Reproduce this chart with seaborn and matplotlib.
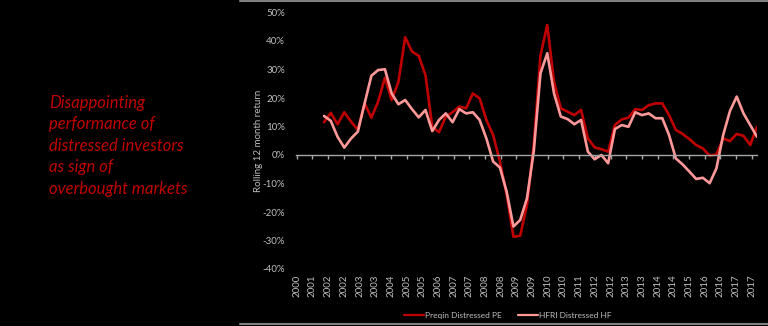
import numpy as np
import pandas as pd
import matplotlib
matplotlib.use("Agg")
import matplotlib.pyplot as plt
from matplotlib.lines import Line2D
import seaborn as sns

# ---- data (rolling 12 month return, %) ----
preqin_pe = [11.5, 14.8, 10.8, 15.0, 11.7, 8.8, 18.1, 13.1, 18.7, 27.1,
             19.3, 25.7, 41.3, 36.3, 34.8, 28.0, 9.9, 8.0, 13.5, 15.0,
             17.0, 16.4, 21.6, 19.9, 12.3, 7.0, -2.3, -14.0, -28.7, -28.3,
             -17.5, 3.5, 35.0, 45.6, 25.7, 16.4, 15.2, 14.0, 15.8, 5.8,
             2.7, 2.0, 1.2, 10.5, 12.5, 13.1, 16.1, 15.8, 17.5, 18.1,
             18.1, 14.0, 8.8, 7.4, 5.6, 3.5, 2.3, -0.2, 0.2, 5.8,
             4.9, 7.4, 6.7, 3.5, 9.9]
hfri_hf = [13.7, 12.0, 6.4, 2.6, 5.8, 8.2, 18.1, 27.8, 29.8, 30.1,
           21.6, 17.8, 19.3, 16.1, 13.2, 15.8, 8.4, 12.3, 14.6, 11.5,
           16.1, 14.6, 15.0, 12.3, 5.8, -2.3, -4.4, -12.9, -25.1, -22.8,
           -15.2, 1.2, 28.7, 35.7, 21.6, 13.5, 12.6, 10.8, 12.3, 1.2,
           -1.5, 0.0, -2.9, 9.1, 10.5, 9.9, 15.0, 14.0, 14.6, 12.9,
           12.9, 7.0, -1.2, -3.3, -5.8, -8.4, -8.0, -9.9, -4.7, 7.0,
           15.4, 20.5, 14.6, 10.5, 6.4]
series_names = ["Preqin Distressed PE", "HFRI Distressed HF"]
tick_labels = ["2000", "2001", "2002", "2002", "2003", "2003", "2004", "2005",
               "2005", "2006", "2007", "2007", "2008", "2008", "2009", "2009",
               "2010", "2010", "2011", "2012", "2012", "2013", "2013", "2014",
               "2014", "2015", "2016", "2016", "2017", "2017"]
y_ticks = [-40, -30, -20, -10, 0, 10, 20, 30, 40, 50]

n = len(preqin_pe)
df = pd.DataFrame({
    "period": np.concatenate([np.arange(n), np.arange(n)]),
    "ret": preqin_pe + hfri_hf,
    "series": [series_names[0]] * n + [series_names[1]] * n,
})

sns.set_theme(style="dark")
plt.rcParams["font.family"] = ["Lato", "DejaVu Sans"]

GRAY = "#BFBFBF"
fig = plt.figure(figsize=(7.68, 3.26), dpi=100, facecolor="black")
ax = fig.add_axes([296 / 768, 1 - 269 / 326, (757 - 296) / 768, (269 - 12.5) / 326])
ax.set_facecolor("black")

palette = {series_names[0]: "#C00000", series_names[1]: "#FF9999"}
sns.lineplot(data=df, x="period", y="ret", hue="series", palette=palette,
             linewidth=1.9, ax=ax, legend=True)

ax.set_ylim(-40, 50)
ax.set_xlim(-4.14, 64.0)
ax.set_yticks(y_ticks)
ax.set_yticklabels([f"{v}%" for v in y_ticks], color=GRAY, fontsize=7)
ax.tick_params(axis="y", left=False, length=0, pad=8)
ax.set_ylabel("Rolling 12 month return", color=GRAY, fontsize=7)
ax.yaxis.set_label_coords(-0.072, 0.5)
ax.set_xlabel("")
ax.grid(False)
for s in ["top", "right", "left"]:
    ax.spines[s].set_visible(False)

# axis line at 0% with tick marks
tick_pos = -4.03 + 2.319 * np.arange(len(tick_labels))
ax.spines["bottom"].set_position(("data", 0))
ax.spines["bottom"].set_color("#A6A6A6")
ax.spines["bottom"].set_linewidth(1.0)
ax.set_xticks(tick_pos)
ax.tick_params(axis="x", bottom=True, direction="out", length=3, width=1,
               color="#A6A6A6", labelbottom=False)

# labels at the bottom of the plot area
sec = ax.secondary_xaxis("bottom")
sec.set_xticks(tick_pos)
sec.set_xticklabels(tick_labels, rotation=90, color=GRAY, fontsize=7)
sec.tick_params(axis="x", length=0, pad=4)
sec.spines["bottom"].set_visible(False)

# legend
sns.move_legend(ax, "center", bbox_to_anchor=(0.661, 0.031),
                bbox_transform=fig.transFigure, ncol=2, frameon=False,
                title=None, fontsize=6.0, handlelength=2.4,
                handletextpad=0.15, columnspacing=1.9)
leg = ax.get_legend()
for t in leg.get_texts():
    t.set_color(GRAY)
for h in leg.get_lines():
    h.set_linewidth(1.6)

# left annotation
fig.text(49 / 768, 1 - 95 / 326,
         "Disappointing\nperformance of\ndistressed investors\nas sign of\noverbought markets",
         color="#C00000", style="italic", fontsize=12, ha="left", va="top",
         linespacing=1.42)

# slide frame lines
fig.add_artist(Line2D([240 / 768, 1], [1 - 0.5 / 326] * 2, color="#7F7F7F", lw=1.5,
                      transform=fig.transFigure))
fig.add_artist(Line2D([240 / 768, 1], [1 - 323.5 / 326] * 2, color="#7F7F7F", lw=1.5,
                      transform=fig.transFigure))

fig.savefig("out.png", dpi=100, facecolor="black")
